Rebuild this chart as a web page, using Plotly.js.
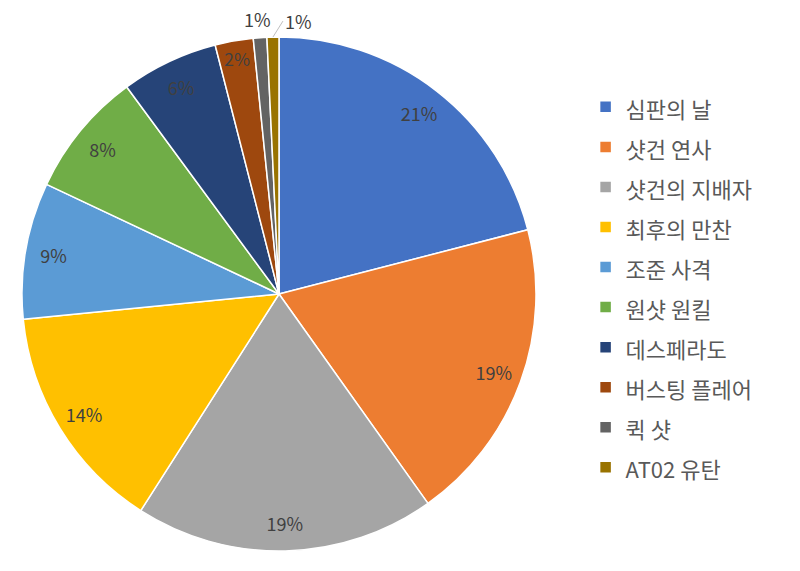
<!DOCTYPE html>
<html>
<head>
<meta charset="utf-8">
<script src="https://cdn.plot.ly/plotly-3.0.1.min.js"></script>
<style>html,body{margin:0;padding:0;background:#fff;}#chart{width:800px;height:571px;}</style>
</head>
<body>
<div id="chart"></div>
<script>
// Data (percent shares)
const labels = ['심판의 날', '샷건 연사', '샷건의 지배자', '최후의 만찬', '조준 사격', '원샷 원킬', '데스페라도', '버스팅 플레어', '퀵 샷', 'AT02 유탄'];
const values = [21.0, 19.2, 18.9, 14.4, 8.6, 7.9, 6.1, 2.4, 0.85, 0.75];
const colors = ['#4472C4', '#ED7D31', '#A5A5A5', '#FFC000', '#5B9BD5', '#70AD47', '#264478', '#9E480E', '#636363', '#997300'];

const FONT = '"Noto Sans CJK KR", "Noto Sans", sans-serif';
const W = 800, H = 571, MT = 37, MB = 20;
const domain = {x: [22 / W, 536 / W], y: [0, 1]};

const legendLabels = labels.map(l => '<span style="font-size:22px">' + l + '</span>');

const pie = {
  type: 'pie',
  labels: legendLabels,
  values: values,
  sort: false,
  direction: 'clockwise',
  rotation: 0,
  domain: domain,
  marker: {colors: colors, line: {color: '#ffffff', width: 1.5}},
  textinfo: 'none',
  hovertemplate: '%{label}: %{percent:.0%}<extra></extra>'
};

// transparent ring carrying the data labels near the outer edge
const n = values.length;
const outsideIdx = [n - 2, n - 1];
const ring = {
  type: 'pie',
  labels: labels.map(l => l + ' '),
  values: values,
  sort: false,
  direction: 'clockwise',
  rotation: 0,
  hole: 0.78,
  domain: domain,
  showlegend: false,
  hoverinfo: 'skip',
  marker: {colors: values.map(() => 'rgba(0,0,0,0)'), line: {width: 0}},
  texttemplate: values.map((v, i) => (outsideIdx.includes(i) ? '' : '%{percent:.0%}')),
  textposition: values.map((v, i) => (outsideIdx.includes(i) ? 'none' : 'inside')),
  insidetextorientation: 'horizontal',
  textfont: {family: FONT, size: 18, color: '#404040'}
};

// labels of the two tiny slices, placed just outside their slice edge
const total = values.reduce((a, b) => a + b, 0);
const r = (domain.y[1] - domain.y[0]) * (H - MT - MB) / 2;
const cx = (domain.x[0] + domain.x[1]) / 2 * W;
const cy = MT + r;
function edgePoint(i) {
  const before = values.slice(0, i).reduce((a, b) => a + b, 0);
  const th = (before + values[i] / 2) / total * 2 * Math.PI;
  return {x: (cx + r * Math.sin(th)) / W, y: 1 - ((cy - r * Math.cos(th)) - MT) / (H - MT - MB)};
}
const pct = i => Math.round(values[i] / total * 100) + '%';
const p9 = edgePoint(n - 2), p10 = edgePoint(n - 1);
const annFont = {family: FONT, size: 18, color: '#404040'};

const layout = {
  width: W,
  height: H,
  margin: {l: 0, r: 0, t: MT, b: MB},
  paper_bgcolor: '#ffffff',
  font: {family: FONT, color: '#595959'},
  showlegend: true,
  legend: {
    x: 0.732, xanchor: 'left',
    y: 0.513, yanchor: 'middle',
    font: {family: FONT, size: 28.5, color: '#595959'},
    bgcolor: 'rgba(0,0,0,0)'
  },
  annotations: [{
    xref: 'paper', yref: 'paper',
    x: p9.x, y: p9.y, xanchor: 'right', yanchor: 'bottom',
    xshift: 13, yshift: 4,
    text: pct(n - 2), showarrow: false, font: annFont
  }, {
    xref: 'paper', yref: 'paper',
    x: p10.x, y: p10.y,
    text: pct(n - 1),
    showarrow: true, arrowhead: 0, arrowwidth: 1, arrowcolor: '#bfbfbf',
    ax: 10, ay: -16, xanchor: 'left',
    font: annFont
  }]
};

Plotly.newPlot('chart', [pie, ring], layout, {displayModeBar: false});
</script>
</body>
</html>
